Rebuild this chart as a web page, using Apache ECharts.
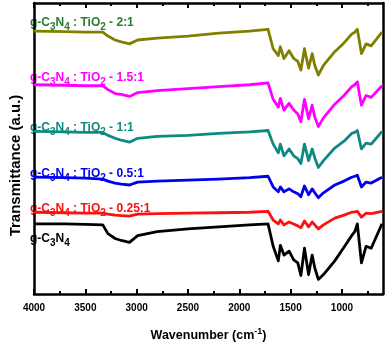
<!DOCTYPE html>
<html>
<head>
<meta charset="utf-8">
<script src="https://cdn.jsdelivr.net/npm/echarts@6.0.0/dist/echarts.min.js"></script>
<style>
  html, body { margin: 0; padding: 0; background: #fff; }
  #chart { width: 387px; height: 347px; }
</style>
</head>
<body>
<div id="chart"></div>
<script>
// wavenumbers (cm-1) sampled along every spectrum
const wavenumbers = [4000, 3700, 3500, 3330, 3280, 3210, 3150, 3070, 2990, 2800, 2500, 2200, 1900, 1720, 1670, 1620, 1600, 1565, 1515, 1470, 1430, 1400, 1365, 1325, 1290, 1265, 1230, 1180, 1070, 980, 905, 875, 850, 810, 765, 715, 610];

// transmittance (a.u., curves already stacked with offsets)
const ratio2to1 = [270, 269.5, 269, 269, 265, 261, 259, 257, 261, 263, 265, 268, 270, 272, 252, 245, 254, 242, 250, 242, 239, 230, 252, 232, 247, 235, 225, 235, 249, 258, 267, 269, 272, 247, 257, 255, 269];
const ratio15to1 = [215, 214.5, 214, 214, 210, 206, 205, 203, 207, 209, 211, 213, 215, 217, 200, 192, 201, 189, 196, 189, 185, 177, 200, 180, 194, 182, 172, 181, 195, 204, 213, 215, 218, 194, 204, 202, 214];
const ratio1to1 = [167, 166.5, 166, 166, 163, 160, 158, 156, 160, 162, 163, 165, 166.5, 168, 154, 145, 154, 142, 149, 142, 139, 134, 154, 137, 149, 140, 130, 137, 150, 157, 165, 166, 168, 149, 155, 154, 167];
const ratio05to1 = [120, 119.5, 119, 118, 116, 114, 113, 112, 115, 116, 117, 118, 119.5, 121, 110, 105, 110, 105, 108, 105, 103, 100, 111, 102, 108, 104, 99, 104, 112, 116, 120, 121, 122, 110, 115, 114, 120];
const ratio025to1 = [84, 83.5, 83, 83, 82, 81, 80.5, 80, 82, 82.5, 83, 83.5, 84, 85, 76, 72, 76, 71, 74, 72, 70, 68, 75, 69, 74, 71, 67, 71, 78, 81, 84, 84.5, 85, 79, 83, 82.5, 85];
const pureCN = [72, 72, 71.5, 71, 62, 57, 55, 53, 60, 64, 67, 69, 71, 72, 49, 34, 50, 40, 44, 35, 32, 19, 47, 20, 40, 27, 15, 20, 34, 48, 60, 64, 72, 32, 49, 47, 72];

const majorTicks = [1000, 1500, 2000, 2500, 3000, 3500, 4000];
const minorTicks = [750, 1250, 1750, 2250, 2750, 3250, 3750];

const curveLabels = ['2:1', '1.5:1', '1:1', '0.5:1', '0.25:1', ''];

const FONT = '"Liberation Sans", Arial, sans-serif';

let chart = echarts.init(document.getElementById('chart'), null, { renderer: 'canvas' });

function pairs(vals) {
    return wavenumbers.map((w, i) => [w, vals[i]]);
}

function makeSeries(vals, color) {
    return {
        type: 'line',
        data: pairs(vals),
        xAxisIndex: 0,
        yAxisIndex: 0,
        showSymbol: false,
        silent: true,
        lineStyle: { color: color, width: 2.8, join: 'round' },
        animation: false
    };
}

function xAx(pos, ticks, len, showLine, showLabel) {
    return {
        type: 'value',
        position: pos,
        min: 600,
        max: 4000,
        inverse: true,
        axisLine: { show: showLine, onZero: false, lineStyle: { color: '#000', width: 2.5 } },
        axisTick: { show: true, inside: true, length: len, lineStyle: { color: '#000', width: 2 }, customValues: ticks },
        axisLabel: {
            show: showLabel,
            customValues: ticks,
            formatter: (v) => String(v),
            color: '#000',
            fontFamily: FONT,
            fontWeight: 'bold',
            fontSize: 10,
            margin: 9
        },
        splitLine: { show: false }
    };
}

function richLabel(ratio) {
    if (ratio === '') return '{m|g-C}{s|3}{m|N}{s|4}';
    return '{m|g-C}{s|3}{m|N}{s|4}{m| : TiO}{s|2}{m| - ' + ratio + '}';
}

const labelColors = ['#2a7d2e', '#ff00ff', '#0e8a80', '#0000ee', '#ff1010', '#000000'];
const labelTops = [17, 72, 122, 168, 203, 233];

let graphics = curveLabels.map((r, i) => ({
    type: 'text',
    left: 30,
    top: labelTops[i],
    silent: true,
    style: {
        text: richLabel(r),
        fill: labelColors[i],
        rich: {
            m: { fontFamily: FONT, fontWeight: 'bold', fontSize: 12, fill: labelColors[i] },
            s: { fontFamily: FONT, fontWeight: 'bold', fontSize: 10, fill: labelColors[i], padding: [8, 0, 0, 0] }
        }
    }
}));

let xMajorBottom = xAx('bottom', majorTicks, 5, true, true);
xMajorBottom.name = '{b|Wavenumber (cm}{p|-1}{b|)}';
xMajorBottom.nameLocation = 'middle';
xMajorBottom.nameGap = 33;
xMajorBottom.nameTextStyle = {
    rich: {
        b: { fontFamily: FONT, fontWeight: 'bold', fontSize: 12.5, color: '#000' },
        p: { fontFamily: FONT, fontWeight: 'bold', fontSize: 9, color: '#000', padding: [0, 0, 8, 0] }
    }
};

let options = {
    animation: false,
    grid: { left: 27, right: 4, top: 3, bottom: 45, containLabel: false },
    xAxis: [
        xMajorBottom,
        xAx('bottom', minorTicks, 3, false, false),
        xAx('top', majorTicks, 5, true, false),
        xAx('top', minorTicks, 3, false, false)
    ],
    yAxis: [
        {
            type: 'value',
            position: 'left',
            min: 0,
            max: 299,
            axisLine: { show: true, onZero: false, lineStyle: { color: '#000', width: 2.5 } },
            axisTick: { show: false },
            axisLabel: { show: false },
            splitLine: { show: false },
            name: 'Transmittance (a.u.)',
            nameLocation: 'middle',
            nameGap: 11,
            nameTextStyle: { fontFamily: FONT, fontWeight: 'bold', fontSize: 15, color: '#000', padding: [0, 34, 0, 0] }
        },
        {
            type: 'value',
            position: 'right',
            min: 0,
            max: 299,
            axisLine: { show: true, onZero: false, lineStyle: { color: '#000', width: 2.5 } },
            axisTick: { show: false },
            axisLabel: { show: false },
            splitLine: { show: false }
        }
    ],
    series: [
        makeSeries(ratio2to1, '#808000'),
        makeSeries(ratio15to1, '#ff00ff'),
        makeSeries(ratio1to1, '#0e8a80'),
        makeSeries(ratio05to1, '#0000ee'),
        makeSeries(ratio025to1, '#ff1010'),
        makeSeries(pureCN, '#000000')
    ],
    graphic: graphics
};

chart.setOption(options);
</script>
</body>
</html>
